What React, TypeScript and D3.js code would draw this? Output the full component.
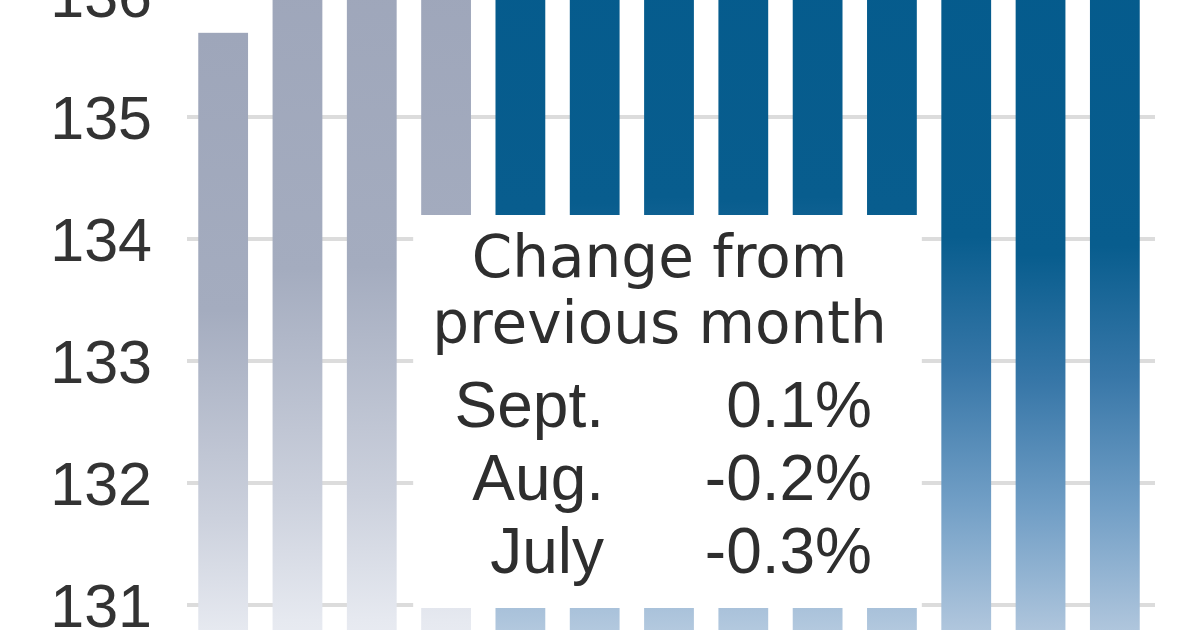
import React, { useEffect, useRef } from 'react';
import { select, scaleLinear, scaleBand, range } from 'd3';

// Monthly index levels (left to right); first bars are the earlier period
const months = ['Sept.', 'Oct.', 'Nov.', 'Dec.', 'Jan.', 'Feb.', 'March', 'April', 'May', 'June', 'July', 'Aug.', 'Sept.'];
const indexValues = [135.69, 136.25, 136.3, 136.2, 137.7, 137.8, 137.9, 137.85, 137.9, 137.7, 137.3, 137.03, 137.17];
const priorCount = 4; // gray bars

const yTicks = [131, 132, 133, 134, 135, 136];

// Inset table
const changeTitle = ['Change from', 'previous month'];
const changeMonths = ['Sept.', 'Aug.', 'July'];
const changeValues = ['0.1%', '-0.2%', '-0.3%'];

const WIDTH = 1200;
const HEIGHT = 630;

const BarChart: React.FC = () => {
  const svgRef = useRef<SVGSVGElement>(null);

  useEffect(() => {
    if (!svgRef.current) return;
    const svg = select(svgRef.current);
    svg.selectAll('*').remove();

    // scales: the plot continues below the visible crop
    const y = scaleLinear().domain([130, 136]).range([727, -5]);
    const x = scaleBand<number>()
      .domain(range(indexValues.length))
      .range([186, 1152])
      .paddingInner(0.33)
      .paddingOuter(0.165);

    const defs = svg.append('defs');
    const gray = defs.append('linearGradient').attr('id', 'g-gray')
      .attr('x1', 0).attr('y1', 0).attr('x2', 0).attr('y2', 1);
    [[0, '#9ea6ba'], [0.4, '#a4acbf'], [0.7, '#ccd1dd'], [0.86, '#e6e9f0'], [1, '#f5f6f9']]
      .forEach(([o, c]) => gray.append('stop').attr('offset', o).attr('stop-color', c));
    const blue = defs.append('linearGradient').attr('id', 'g-blue')
      .attr('x1', 0).attr('y1', 0).attr('x2', 0).attr('y2', 1);
    [[0, '#035a8c'], [0.45, '#085d8e'], [0.6, '#3877a8'], [0.75, '#729fc6'], [0.88, '#abc3db'], [1, '#dce6f0']]
      .forEach(([o, c]) => blue.append('stop').attr('offset', o).attr('stop-color', c));

    // grid
    svg.append('g').selectAll('line').data(yTicks).join('line')
      .attr('x1', 187).attr('x2', 1155)
      .attr('y1', d => y(d)).attr('y2', d => y(d))
      .attr('stroke', '#dcdcdc').attr('stroke-width', 4);

    // bars
    svg.append('g').selectAll('rect').data(indexValues).join('rect')
      .attr('x', (_, i) => x(i)!)
      .attr('width', x.bandwidth())
      .attr('y', d => y(d))
      .attr('height', d => y(130) - y(d))
      .attr('fill', (_, i) => (i < priorCount ? 'url(#g-gray)' : 'url(#g-blue)'));

    // inset box
    const boxLeft = x(3)! - 8;
    const boxRight = x(9)! + x.bandwidth() + 5;
    const boxTop = 215;
    const boxBottom = y(131) + 3;
    svg.append('rect')
      .attr('x', boxLeft).attr('y', boxTop)
      .attr('width', boxRight - boxLeft).attr('height', boxBottom - boxTop)
      .attr('fill', '#fff');

    const cx = (boxLeft + boxRight) / 2 - 8;
    svg.append('g').selectAll('text').data(changeTitle).join('text')
      .attr('x', cx)
      .attr('y', (_, i) => 277 + i * 66)
      .attr('text-anchor', 'middle')
      .attr('font-family', '"DejaVu Sans", sans-serif')
      .attr('font-size', 58)
      .attr('fill', '#2e2e2e')
      .text(d => d);

    const rows = svg.append('g')
      .attr('font-family', '"Liberation Sans", Arial, sans-serif')
      .attr('font-size', 64)
      .attr('fill', '#2e2e2e');
    rows.selectAll('text.m').data(changeMonths).join('text')
      .attr('class', 'm')
      .attr('x', 604)
      .attr('y', (_, i) => 427 + i * 73)
      .attr('text-anchor', 'end')
      .text(d => d);
    rows.selectAll('text.v').data(changeValues).join('text')
      .attr('class', 'v')
      .attr('x', 872)
      .attr('y', (_, i) => 427 + i * 73)
      .attr('text-anchor', 'end')
      .text(d => d);

    // y labels
    svg.append('g').selectAll('text').data(yTicks).join('text')
      .attr('x', 152)
      .attr('y', d => y(d) + 22)
      .attr('text-anchor', 'end')
      .attr('font-family', '"Liberation Sans", Arial, sans-serif')
      .attr('font-size', 61)
      .attr('fill', '#333')
      .text(d => d);
  }, []);

  return (
    <svg
      ref={svgRef}
      width={WIDTH}
      height={HEIGHT}
      style={{ position: 'absolute', left: 0, top: 0, background: '#fff' }}
    />
  );
};

export default function App() {
  return <BarChart />;
}
